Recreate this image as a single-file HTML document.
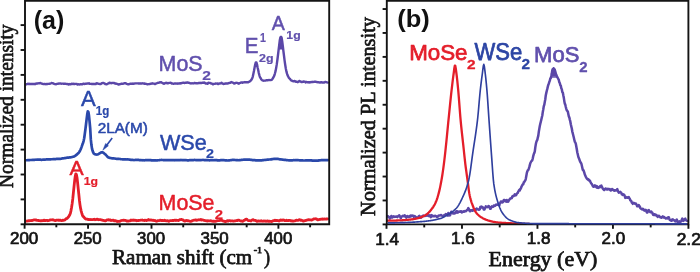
<!DOCTYPE html>
<html><head><meta charset="utf-8"><title>Raman and PL spectra</title><style>
html,body{margin:0;padding:0;background:#fff;}
svg{display:block;}
</style></head><body>
<svg width="700" height="272" viewBox="0 0 700 272">
<defs><clipPath id="cb"><rect x="386.8" y="0" width="301.60" height="224.4"/></clipPath></defs>
<rect width="700" height="272" fill="#fff"/>
<g fill="none" stroke-linejoin="round" stroke-linecap="round">
<path d="M26.00,84.42 L26.60,84.24 L27.20,84.05 L27.80,83.74 L28.40,83.99 L29.00,83.74 L29.60,84.10 L30.20,84.03 L30.80,84.06 L31.40,83.94 L32.00,84.13 L32.60,83.91 L33.20,84.05 L33.80,84.00 L34.40,84.02 L35.00,84.19 L35.60,83.91 L36.20,83.46 L36.80,83.68 L37.40,83.61 L38.00,83.19 L38.60,83.31 L39.20,83.42 L39.80,83.10 L40.40,82.96 L41.00,83.30 L41.60,83.66 L42.20,83.74 L42.80,83.88 L43.40,84.11 L44.00,84.17 L44.60,83.94 L45.20,83.98 L45.80,84.29 L46.40,84.15 L47.00,83.84 L47.60,84.00 L48.20,83.92 L48.80,83.89 L49.40,83.73 L50.00,83.70 L50.60,83.55 L51.20,83.23 L51.80,82.96 L52.40,83.27 L53.00,83.19 L53.60,83.55 L54.20,83.95 L54.80,84.12 L55.40,84.13 L56.00,84.30 L56.60,83.84 L57.20,83.86 L57.80,83.80 L58.40,83.54 L59.00,83.39 L59.60,83.58 L60.20,83.57 L60.80,83.47 L61.40,83.74 L62.00,83.66 L62.60,83.58 L63.20,83.69 L63.80,83.71 L64.40,83.76 L65.00,83.62 L65.60,83.88 L66.20,83.89 L66.80,84.00 L67.40,83.98 L68.00,84.36 L68.60,84.45 L69.20,84.06 L69.80,84.26 L70.40,84.29 L71.00,84.10 L71.60,83.66 L72.20,84.08 L72.80,83.74 L73.40,83.77 L74.00,84.11 L74.60,84.00 L75.20,83.88 L75.80,83.91 L76.40,83.97 L77.00,84.06 L77.60,84.59 L78.20,84.28 L78.80,84.39 L79.40,84.44 L80.00,84.39 L80.60,84.12 L81.20,84.21 L81.80,84.35 L82.40,84.24 L83.00,83.89 L83.60,83.67 L84.20,83.98 L84.80,83.84 L85.40,83.73 L86.00,83.76 L86.60,83.61 L87.20,83.48 L87.80,83.61 L88.40,83.54 L89.00,83.30 L89.60,83.75 L90.20,83.85 L90.80,83.91 L91.40,83.91 L92.00,84.16 L92.60,83.85 L93.20,83.91 L93.80,84.05 L94.40,83.95 L95.00,83.87 L95.60,84.15 L96.20,83.78 L96.80,83.21 L97.40,83.44 L98.00,83.61 L98.60,83.76 L99.20,83.84 L99.80,83.99 L100.40,83.87 L101.00,83.95 L101.60,83.37 L102.20,83.03 L102.80,83.08 L103.40,82.97 L104.00,83.08 L104.60,83.58 L105.20,84.03 L105.80,84.01 L106.40,84.32 L107.00,84.13 L107.60,83.85 L108.20,83.46 L108.80,83.26 L109.40,82.82 L110.00,82.82 L110.60,82.96 L111.20,83.20 L111.80,83.14 L112.40,82.87 L113.00,82.91 L113.60,82.94 L114.20,83.04 L114.80,83.38 L115.40,83.69 L116.00,83.48 L116.60,83.84 L117.20,83.92 L117.80,84.07 L118.40,84.57 L119.00,84.50 L119.60,84.12 L120.20,84.09 L120.80,83.99 L121.40,83.69 L122.00,83.92 L122.60,83.86 L123.20,83.57 L123.80,83.45 L124.40,83.26 L125.00,83.25 L125.60,83.18 L126.20,83.64 L126.80,83.92 L127.40,84.10 L128.00,84.24 L128.60,84.30 L129.20,84.13 L129.80,83.90 L130.40,83.74 L131.00,83.78 L131.60,83.71 L132.20,83.80 L132.80,83.57 L133.40,83.82 L134.00,83.60 L134.60,83.55 L135.20,83.39 L135.80,83.42 L136.40,83.39 L137.00,83.39 L137.60,83.38 L138.20,83.33 L138.80,83.61 L139.40,83.46 L140.00,83.39 L140.60,83.60 L141.20,83.41 L141.80,83.47 L142.40,83.26 L143.00,83.51 L143.60,83.55 L144.20,83.68 L144.80,83.40 L145.40,83.85 L146.00,83.85 L146.60,83.87 L147.20,84.33 L147.80,84.26 L148.40,84.17 L149.00,84.09 L149.60,84.09 L150.20,83.77 L150.80,83.83 L151.40,83.63 L152.00,83.44 L152.60,83.31 L153.20,83.67 L153.80,83.67 L154.40,83.77 L155.00,84.07 L155.60,83.86 L156.20,83.46 L156.80,83.28 L157.40,82.96 L158.00,82.81 L158.60,82.77 L159.20,82.58 L159.80,82.29 L160.40,82.46 L161.00,82.19 L161.60,82.50 L162.20,82.82 L162.80,83.12 L163.40,83.63 L164.00,83.76 L164.60,83.29 L165.20,83.03 L165.80,83.10 L166.40,82.80 L167.00,83.00 L167.60,83.40 L168.20,83.31 L168.80,82.96 L169.40,82.92 L170.00,82.84 L170.60,82.71 L171.20,83.10 L171.80,83.63 L172.40,83.51 L173.00,83.57 L173.60,83.72 L174.20,83.64 L174.80,83.46 L175.40,83.47 L176.00,83.53 L176.60,83.54 L177.20,83.71 L177.80,83.40 L178.40,83.45 L179.00,83.59 L179.60,83.35 L180.20,83.09 L180.80,83.46 L181.40,83.08 L182.00,82.94 L182.60,82.90 L183.20,82.69 L183.80,82.68 L184.40,83.04 L185.00,82.67 L185.60,82.75 L186.20,82.78 L186.80,82.38 L187.40,82.33 L188.00,82.70 L188.60,82.75 L189.20,82.93 L189.80,83.23 L190.40,83.43 L191.00,83.31 L191.60,83.43 L192.20,83.28 L192.80,83.34 L193.40,83.43 L194.00,83.26 L194.60,82.89 L195.20,83.13 L195.80,83.23 L196.40,83.13 L197.00,83.37 L197.60,83.38 L198.20,83.07 L198.80,82.87 L199.40,83.01 L200.00,82.76 L200.60,83.07 L201.20,83.04 L201.80,82.80 L202.40,82.65 L203.00,82.78 L203.60,82.59 L204.20,82.45 L204.80,82.86 L205.40,83.45 L206.00,83.36 L206.60,83.49 L207.20,83.69 L207.80,83.69 L208.40,82.75 L209.00,82.85 L209.60,82.87 L210.20,83.00 L210.80,83.31 L211.40,83.50 L212.00,83.68 L212.60,84.19 L213.20,84.27 L213.80,83.86 L214.40,83.89 L215.00,83.83 L215.60,83.42 L216.20,83.58 L216.80,83.56 L217.40,83.50 L218.00,83.97 L218.60,83.96 L219.20,83.40 L219.80,83.53 L220.40,83.34 L221.00,83.03 L221.60,82.66 L222.20,83.45 L222.80,83.63 L223.40,83.98 L224.00,83.82 L224.60,83.83 L225.20,83.51 L225.80,83.47 L226.40,83.45 L227.00,83.31 L227.60,83.50 L228.20,83.38 L228.80,83.13 L229.40,82.87 L230.00,82.92 L230.60,82.60 L231.20,82.04 L231.80,82.24 L232.40,82.57 L233.00,82.64 L233.60,83.02 L234.20,83.65 L234.80,83.46 L235.40,82.96 L236.00,82.83 L236.60,82.81 L237.20,82.92 L237.80,83.09 L238.40,83.67 L239.00,83.50 L239.60,83.02 L240.20,82.83 L240.80,82.55 L241.40,82.34 L242.00,82.41 L242.60,82.75 L243.20,82.33 L243.80,82.40 L244.40,82.21 L245.00,82.07 L245.60,82.18 L246.20,82.39 L246.80,82.29 L247.40,82.23 L248.00,82.24 L248.60,82.05 L249.20,81.67 L249.80,81.28 L250.40,81.07 L251.00,80.35 L251.60,79.48 L252.20,78.37 L252.80,76.59 L253.40,73.71 L254.00,70.83 L254.60,67.43 L255.20,64.54 L255.80,62.40 L256.40,62.47 L257.00,64.31 L257.60,67.47 L258.20,70.09 L258.80,73.08 L259.40,75.29 L260.00,77.23 L260.60,78.07 L261.20,79.28 L261.80,79.91 L262.40,80.39 L263.00,80.51 L263.60,80.78 L264.20,80.67 L264.80,80.58 L265.40,80.62 L266.00,80.41 L266.60,80.27 L267.20,80.29 L267.80,80.22 L268.40,80.12 L269.00,80.02 L269.60,80.15 L270.20,80.09 L270.80,80.05 L271.40,79.84 L272.00,79.55 L272.60,78.70 L273.20,77.77 L273.80,76.72 L274.40,75.29 L275.00,73.27 L275.60,70.92 L276.20,67.82 L276.80,64.17 L277.40,59.76 L278.00,55.02 L278.60,49.93 L279.20,45.04 L279.80,40.20 L280.40,37.33 L281.00,36.73 L281.60,37.72 L282.20,41.25 L282.80,45.93 L283.40,51.00 L284.00,55.74 L284.60,60.62 L285.20,64.78 L285.80,68.56 L286.40,71.42 L287.00,73.68 L287.60,75.36 L288.20,76.54 L288.80,77.71 L289.40,78.36 L290.00,78.94 L290.60,79.71 L291.20,80.34 L291.80,80.62 L292.40,81.02 L293.00,81.10 L293.60,81.31 L294.20,81.23 L294.80,80.98 L295.40,81.25 L296.00,81.73 L296.60,81.77 L297.20,81.88 L297.80,82.16 L298.40,81.56 L299.00,81.22 L299.60,80.99 L300.20,81.54 L300.80,81.58 L301.40,82.03 L302.00,82.08 L302.60,81.90 L303.20,81.50 L303.80,81.70 L304.40,81.57 L305.00,81.69 L305.60,82.38 L306.20,81.98 L306.80,81.95 L307.40,82.27 L308.00,82.21 L308.60,82.09 L309.20,82.53 L309.80,82.17 L310.40,82.07 L311.00,82.27 L311.60,81.96 L312.20,81.84 L312.80,82.13 L313.40,81.89 L314.00,81.82 L314.60,81.82 L315.20,81.67 L315.80,81.64 L316.40,82.04 L317.00,81.93 L317.60,82.26 L318.20,82.15 L318.80,82.33 L319.40,82.35 L320.00,82.63 L320.60,82.35 L321.20,82.19 L321.80,82.46 L322.40,82.50 L323.00,82.42 L323.60,82.56 L324.20,82.55 L324.80,82.13 L325.40,81.91 L326.00,82.09 L326.60,82.26 L327.20,82.44 L327.80,82.59" stroke="#5b47a8" stroke-width="2.4"/>
<path d="M279.5,49 L280.6,37.2 L281.4,37.2 L282.6,49 Z" fill="#5b47a8" stroke="#5b47a8" stroke-width="0.6"/>
<path d="M26.00,160.23 L26.60,160.26 L27.20,160.25 L27.80,160.16 L28.40,160.13 L29.00,160.16 L29.60,160.03 L30.20,160.02 L30.80,159.98 L31.40,159.99 L32.00,159.97 L32.60,159.91 L33.20,159.88 L33.80,159.85 L34.40,159.83 L35.00,159.71 L35.60,159.76 L36.20,159.76 L36.80,159.70 L37.40,159.71 L38.00,159.66 L38.60,159.66 L39.20,159.68 L39.80,159.69 L40.40,159.68 L41.00,159.80 L41.60,159.81 L42.20,159.71 L42.80,159.74 L43.40,159.70 L44.00,159.66 L44.60,159.68 L45.20,159.60 L45.80,159.51 L46.40,159.46 L47.00,159.45 L47.60,159.38 L48.20,159.44 L48.80,159.42 L49.40,159.40 L50.00,159.41 L50.60,159.37 L51.20,159.23 L51.80,159.24 L52.40,159.25 L53.00,159.19 L53.60,159.12 L54.20,159.09 L54.80,159.06 L55.40,159.07 L56.00,159.03 L56.60,158.95 L57.20,158.92 L57.80,158.96 L58.40,158.92 L59.00,158.88 L59.60,158.90 L60.20,158.89 L60.80,158.72 L61.40,158.61 L62.00,158.47 L62.60,158.42 L63.20,158.32 L63.80,158.24 L64.40,158.16 L65.00,158.09 L65.60,157.96 L66.20,157.81 L66.80,157.72 L67.40,157.70 L68.00,157.67 L68.60,157.61 L69.20,157.45 L69.80,157.46 L70.40,157.36 L71.00,157.22 L71.60,157.10 L72.20,156.95 L72.80,156.80 L73.40,156.62 L74.00,156.43 L74.60,156.16 L75.20,155.72 L75.80,155.38 L76.40,154.89 L77.00,154.42 L77.60,153.87 L78.20,153.30 L78.80,152.60 L79.40,151.75 L80.00,150.73 L80.60,149.46 L81.20,147.98 L81.80,146.36 L82.40,144.57 L83.00,142.98 L83.60,141.10 L84.20,138.20 L84.80,133.92 L85.40,129.34 L86.00,124.50 L86.60,119.33 L87.20,114.56 L87.80,111.27 L88.40,112.06 L89.00,115.81 L89.60,121.81 L90.20,128.40 L90.80,139.14 L91.40,144.83 L92.00,148.60 L92.60,150.84 L93.20,152.43 L93.80,153.54 L94.40,153.99 L95.00,154.19 L95.60,154.43 L96.20,154.52 L96.80,154.55 L97.40,154.52 L98.00,154.26 L98.60,153.97 L99.20,153.58 L99.80,153.26 L100.40,152.85 L101.00,152.51 L101.60,152.33 L102.20,152.24 L102.80,152.52 L103.40,152.80 L104.00,153.27 L104.60,153.80 L105.20,154.25 L105.80,154.79 L106.40,155.50 L107.00,156.19 L107.60,156.90 L108.20,157.34 L108.80,157.68 L109.40,157.71 L110.00,157.90 L110.60,158.02 L111.20,158.17 L111.80,158.29 L112.40,158.36 L113.00,158.41 L113.60,158.43 L114.20,158.47 L114.80,158.49 L115.40,158.65 L116.00,158.78 L116.60,158.86 L117.20,158.87 L117.80,158.90 L118.40,158.91 L119.00,158.93 L119.60,159.00 L120.20,159.02 L120.80,159.16 L121.40,159.26 L122.00,159.25 L122.60,159.33 L123.20,159.32 L123.80,159.28 L124.40,159.31 L125.00,159.40 L125.60,159.41 L126.20,159.45 L126.80,159.48 L127.40,159.40 L128.00,159.46 L128.60,159.53 L129.20,159.60 L129.80,159.64 L130.40,159.81 L131.00,159.83 L131.60,159.85 L132.20,159.97 L132.80,159.97 L133.40,159.99 L134.00,160.04 L134.60,159.99 L135.20,159.95 L135.80,159.89 L136.40,159.97 L137.00,159.94 L137.60,159.87 L138.20,159.90 L138.80,159.96 L139.40,160.06 L140.00,160.09 L140.60,160.07 L141.20,160.15 L141.80,160.23 L142.40,160.28 L143.00,160.20 L143.60,160.24 L144.20,160.36 L144.80,160.28 L145.40,160.17 L146.00,160.11 L146.60,160.13 L147.20,160.16 L147.80,160.17 L148.40,160.16 L149.00,160.15 L149.60,160.14 L150.20,160.14 L150.80,160.17 L151.40,160.32 L152.00,160.34 L152.60,160.32 L153.20,160.39 L153.80,160.43 L154.40,160.41 L155.00,160.42 L155.60,160.39 L156.20,160.48 L156.80,160.42 L157.40,160.35 L158.00,160.26 L158.60,160.24 L159.20,160.16 L159.80,160.06 L160.40,160.01 L161.00,160.00 L161.60,159.95 L162.20,160.00 L162.80,160.01 L163.40,160.08 L164.00,160.05 L164.60,160.06 L165.20,160.07 L165.80,160.12 L166.40,160.09 L167.00,160.08 L167.60,160.04 L168.20,160.15 L168.80,160.13 L169.40,160.09 L170.00,160.04 L170.60,160.16 L171.20,160.12 L171.80,160.12 L172.40,160.13 L173.00,160.19 L173.60,160.19 L174.20,160.28 L174.80,160.13 L175.40,160.13 L176.00,160.21 L176.60,160.21 L177.20,160.12 L177.80,160.12 L178.40,160.01 L179.00,160.04 L179.60,160.10 L180.20,160.08 L180.80,159.96 L181.40,160.03 L182.00,160.03 L182.60,160.01 L183.20,160.07 L183.80,160.07 L184.40,160.12 L185.00,160.16 L185.60,160.21 L186.20,160.17 L186.80,160.24 L187.40,160.36 L188.00,160.34 L188.60,160.33 L189.20,160.25 L189.80,160.12 L190.40,160.13 L191.00,160.12 L191.60,160.15 L192.20,160.13 L192.80,160.13 L193.40,160.10 L194.00,160.02 L194.60,159.96 L195.20,160.00 L195.80,160.06 L196.40,160.15 L197.00,160.13 L197.60,160.11 L198.20,160.16 L198.80,160.10 L199.40,160.01 L200.00,160.03 L200.60,159.99 L201.20,160.06 L201.80,160.01 L202.40,159.99 L203.00,159.93 L203.60,160.00 L204.20,160.04 L204.80,160.08 L205.40,160.16 L206.00,160.21 L206.60,160.04 L207.20,160.12 L207.80,160.19 L208.40,160.25 L209.00,160.22 L209.60,160.29 L210.20,160.25 L210.80,160.14 L211.40,160.08 L212.00,160.00 L212.60,160.10 L213.20,160.21 L213.80,160.26 L214.40,160.21 L215.00,160.08 L215.60,160.20 L216.20,160.17 L216.80,160.18 L217.40,160.33 L218.00,160.34 L218.60,160.31 L219.20,160.29 L219.80,160.32 L220.40,160.20 L221.00,160.15 L221.60,160.21 L222.20,160.15 L222.80,160.18 L223.40,160.19 L224.00,160.18 L224.60,160.26 L225.20,160.38 L225.80,160.39 L226.40,160.31 L227.00,160.42 L227.60,160.48 L228.20,160.49 L228.80,160.40 L229.40,160.35 L230.00,160.27 L230.60,160.20 L231.20,160.09 L231.80,159.99 L232.40,159.91 L233.00,160.01 L233.60,159.95 L234.20,159.93 L234.80,159.99 L235.40,160.02 L236.00,160.12 L236.60,160.12 L237.20,160.13 L237.80,160.19 L238.40,160.23 L239.00,160.21 L239.60,160.10 L240.20,160.06 L240.80,159.98 L241.40,159.91 L242.00,159.89 L242.60,159.75 L243.20,159.76 L243.80,159.66 L244.40,159.63 L245.00,159.57 L245.60,159.50 L246.20,159.59 L246.80,159.64 L247.40,159.64 L248.00,159.56 L248.60,159.55 L249.20,159.61 L249.80,159.63 L250.40,159.74 L251.00,159.85 L251.60,159.90 L252.20,160.06 L252.80,160.08 L253.40,160.04 L254.00,160.02 L254.60,160.14 L255.20,160.19 L255.80,160.34 L256.40,160.42 L257.00,160.43 L257.60,160.44 L258.20,160.41 L258.80,160.36 L259.40,160.30 L260.00,160.39 L260.60,160.49 L261.20,160.32 L261.80,160.35 L262.40,160.21 L263.00,160.16 L263.60,160.07 L264.20,159.96 L264.80,159.98 L265.40,159.91 L266.00,159.81 L266.60,159.72 L267.20,159.63 L267.80,159.68 L268.40,159.58 L269.00,159.52 L269.60,159.50 L270.20,159.47 L270.80,159.40 L271.40,159.32 L272.00,159.19 L272.60,159.10 L273.20,158.97 L273.80,158.90 L274.40,158.90 L275.00,158.85 L275.60,158.80 L276.20,158.74 L276.80,158.79 L277.40,158.87 L278.00,158.95 L278.60,159.02 L279.20,159.23 L279.80,159.29 L280.40,159.41 L281.00,159.38 L281.60,159.48 L282.20,159.57 L282.80,159.67 L283.40,159.78 L284.00,159.87 L284.60,159.88 L285.20,159.97 L285.80,159.95 L286.40,160.08 L287.00,160.12 L287.60,160.25 L288.20,160.26 L288.80,160.34 L289.40,160.33 L290.00,160.33 L290.60,160.29 L291.20,160.35 L291.80,160.32 L292.40,160.31 L293.00,160.25 L293.60,160.19 L294.20,160.20 L294.80,160.24 L295.40,160.20 L296.00,160.15 L296.60,160.06 L297.20,160.08 L297.80,160.05 L298.40,160.15 L299.00,160.23 L299.60,160.28 L300.20,160.37 L300.80,160.36 L301.40,160.33 L302.00,160.43 L302.60,160.45 L303.20,160.51 L303.80,160.51 L304.40,160.52 L305.00,160.48 L305.60,160.44 L306.20,160.42 L306.80,160.37 L307.40,160.35 L308.00,160.40 L308.60,160.32 L309.20,160.37 L309.80,160.35 L310.40,160.39 L311.00,160.39 L311.60,160.42 L312.20,160.57 L312.80,160.60 L313.40,160.68 L314.00,160.71 L314.60,160.69 L315.20,160.65 L315.80,160.56 L316.40,160.57 L317.00,160.57 L317.60,160.58 L318.20,160.57 L318.80,160.44 L319.40,160.40 L320.00,160.30 L320.60,160.23 L321.20,160.19 L321.80,160.17 L322.40,160.16 L323.00,160.11 L323.60,160.03 L324.20,160.06 L324.80,160.05 L325.40,160.06 L326.00,160.03 L326.60,160.05 L327.20,160.13 L327.80,160.15" stroke="#2a48aa" stroke-width="2.7"/>
<path d="M26.00,221.01 L26.60,221.16 L27.20,221.05 L27.80,220.81 L28.40,220.90 L29.00,220.66 L29.60,220.73 L30.20,220.66 L30.80,220.58 L31.40,220.46 L32.00,220.71 L32.60,220.27 L33.20,220.21 L33.80,219.93 L34.40,219.86 L35.00,219.97 L35.60,220.08 L36.20,219.94 L36.80,220.34 L37.40,220.29 L38.00,220.48 L38.60,220.46 L39.20,220.60 L39.80,220.75 L40.40,220.92 L41.00,220.61 L41.60,220.76 L42.20,220.59 L42.80,220.74 L43.40,220.26 L44.00,220.48 L44.60,220.09 L45.20,220.50 L45.80,220.52 L46.40,220.43 L47.00,220.29 L47.60,220.73 L48.20,220.57 L48.80,220.56 L49.40,220.24 L50.00,219.87 L50.60,219.99 L51.20,219.90 L51.80,219.95 L52.40,219.75 L53.00,219.99 L53.60,220.00 L54.20,220.30 L54.80,220.57 L55.40,220.50 L56.00,220.40 L56.60,220.15 L57.20,220.10 L57.80,220.20 L58.40,220.34 L59.00,220.11 L59.60,220.26 L60.20,220.17 L60.80,220.41 L61.40,220.58 L62.00,220.60 L62.60,220.25 L63.20,220.31 L63.80,220.30 L64.40,219.93 L65.00,219.93 L65.60,219.19 L66.20,218.61 L66.80,218.54 L67.40,218.13 L68.00,217.38 L68.60,216.80 L69.20,215.79 L69.80,214.77 L70.40,213.30 L71.00,210.61 L71.60,207.33 L72.20,203.40 L72.80,198.67 L73.40,192.71 L74.00,186.83 L74.60,181.16 L75.20,176.46 L75.80,173.86 L76.40,174.46 L77.00,177.42 L77.60,182.59 L78.20,188.51 L78.80,194.07 L79.40,200.16 L80.00,204.86 L80.60,208.43 L81.20,211.08 L81.80,213.22 L82.40,215.05 L83.00,216.37 L83.60,216.77 L84.20,217.45 L84.80,218.28 L85.40,218.89 L86.00,219.01 L86.60,219.09 L87.20,219.20 L87.80,219.36 L88.40,219.60 L89.00,219.44 L89.60,219.54 L90.20,219.69 L90.80,219.37 L91.40,219.68 L92.00,219.61 L92.60,219.69 L93.20,219.61 L93.80,219.28 L94.40,219.25 L95.00,219.81 L95.60,219.53 L96.20,219.52 L96.80,219.23 L97.40,219.25 L98.00,219.57 L98.60,219.78 L99.20,219.54 L99.80,219.58 L100.40,219.57 L101.00,219.84 L101.60,220.00 L102.20,220.06 L102.80,220.42 L103.40,220.48 L104.00,220.63 L104.60,220.63 L105.20,220.82 L105.80,220.59 L106.40,220.34 L107.00,219.87 L107.60,219.95 L108.20,219.72 L108.80,220.08 L109.40,219.90 L110.00,219.81 L110.60,220.07 L111.20,220.56 L111.80,220.30 L112.40,220.28 L113.00,220.14 L113.60,220.38 L114.20,220.84 L114.80,220.82 L115.40,220.54 L116.00,220.76 L116.60,221.20 L117.20,221.49 L117.80,221.24 L118.40,221.30 L119.00,221.30 L119.60,221.37 L120.20,221.15 L120.80,220.81 L121.40,220.50 L122.00,220.37 L122.60,220.29 L123.20,220.26 L123.80,220.17 L124.40,220.32 L125.00,220.40 L125.60,220.35 L126.20,220.70 L126.80,221.10 L127.40,220.99 L128.00,221.03 L128.60,221.01 L129.20,220.91 L129.80,220.94 L130.40,220.59 L131.00,220.03 L131.60,220.46 L132.20,220.05 L132.80,220.13 L133.40,220.37 L134.00,220.15 L134.60,220.40 L135.20,220.47 L135.80,220.19 L136.40,220.77 L137.00,220.49 L137.60,220.53 L138.20,220.65 L138.80,220.37 L139.40,220.28 L140.00,220.28 L140.60,220.21 L141.20,220.18 L141.80,220.03 L142.40,219.99 L143.00,220.46 L143.60,220.29 L144.20,220.54 L144.80,220.08 L145.40,220.41 L146.00,220.42 L146.60,220.57 L147.20,220.16 L147.80,220.01 L148.40,219.55 L149.00,220.09 L149.60,220.07 L150.20,219.94 L150.80,220.03 L151.40,220.02 L152.00,220.24 L152.60,220.29 L153.20,220.27 L153.80,220.58 L154.40,220.56 L155.00,220.45 L155.60,220.75 L156.20,221.26 L156.80,221.05 L157.40,220.86 L158.00,220.63 L158.60,220.53 L159.20,220.55 L159.80,220.41 L160.40,220.17 L161.00,220.49 L161.60,220.53 L162.20,220.31 L162.80,220.68 L163.40,220.64 L164.00,220.53 L164.60,220.15 L165.20,220.55 L165.80,220.67 L166.40,220.93 L167.00,220.71 L167.60,220.61 L168.20,220.98 L168.80,221.36 L169.40,220.92 L170.00,220.73 L170.60,220.60 L171.20,220.68 L171.80,220.57 L172.40,220.50 L173.00,220.47 L173.60,220.59 L174.20,220.30 L174.80,220.17 L175.40,220.21 L176.00,220.53 L176.60,220.24 L177.20,220.33 L177.80,220.39 L178.40,220.54 L179.00,220.15 L179.60,219.94 L180.20,219.53 L180.80,219.57 L181.40,219.43 L182.00,219.65 L182.60,219.78 L183.20,220.07 L183.80,220.70 L184.40,221.02 L185.00,221.00 L185.60,220.89 L186.20,220.41 L186.80,220.52 L187.40,220.79 L188.00,220.66 L188.60,220.80 L189.20,221.00 L189.80,221.27 L190.40,221.46 L191.00,221.27 L191.60,221.19 L192.20,220.69 L192.80,220.47 L193.40,220.26 L194.00,220.16 L194.60,220.20 L195.20,219.94 L195.80,219.96 L196.40,220.43 L197.00,220.13 L197.60,220.06 L198.20,219.94 L198.80,219.71 L199.40,219.95 L200.00,219.96 L200.60,219.47 L201.20,219.85 L201.80,220.06 L202.40,219.83 L203.00,220.07 L203.60,220.36 L204.20,220.32 L204.80,220.63 L205.40,220.69 L206.00,220.58 L206.60,220.98 L207.20,221.04 L207.80,220.67 L208.40,220.80 L209.00,220.88 L209.60,220.90 L210.20,220.83 L210.80,220.74 L211.40,220.92 L212.00,221.13 L212.60,221.25 L213.20,221.33 L213.80,221.18 L214.40,221.41 L215.00,221.28 L215.60,221.23 L216.20,221.17 L216.80,220.86 L217.40,220.63 L218.00,220.62 L218.60,220.57 L219.20,220.71 L219.80,220.31 L220.40,220.21 L221.00,220.37 L221.60,220.46 L222.20,220.49 L222.80,220.89 L223.40,221.01 L224.00,221.20 L224.60,221.45 L225.20,221.62 L225.80,221.60 L226.40,221.28 L227.00,220.83 L227.60,220.64 L228.20,221.03 L228.80,220.58 L229.40,220.62 L230.00,220.53 L230.60,221.00 L231.20,220.93 L231.80,220.96 L232.40,220.78 L233.00,221.12 L233.60,221.04 L234.20,221.05 L234.80,220.81 L235.40,220.83 L236.00,220.71 L236.60,220.49 L237.20,220.71 L237.80,220.32 L238.40,220.04 L239.00,220.11 L239.60,220.45 L240.20,220.72 L240.80,220.98 L241.40,220.96 L242.00,221.04 L242.60,221.35 L243.20,220.88 L243.80,220.48 L244.40,220.40 L245.00,219.89 L245.60,219.30 L246.20,219.20 L246.80,219.22 L247.40,219.90 L248.00,220.47 L248.60,220.61 L249.20,220.62 L249.80,220.58 L250.40,220.83 L251.00,220.98 L251.60,220.49 L252.20,219.94 L252.80,219.61 L253.40,219.89 L254.00,220.27 L254.60,220.34 L255.20,220.34 L255.80,220.64 L256.40,220.87 L257.00,221.30 L257.60,221.12 L258.20,220.96 L258.80,220.96 L259.40,221.11 L260.00,221.12 L260.60,221.19 L261.20,220.78 L261.80,221.12 L262.40,221.20 L263.00,221.23 L263.60,220.97 L264.20,221.02 L264.80,221.07 L265.40,221.31 L266.00,221.05 L266.60,221.32 L267.20,220.90 L267.80,221.00 L268.40,221.42 L269.00,221.28 L269.60,221.18 L270.20,221.30 L270.80,221.29 L271.40,221.52 L272.00,221.46 L272.60,220.93 L273.20,220.76 L273.80,220.70 L274.40,220.68 L275.00,220.22 L275.60,220.67 L276.20,220.58 L276.80,220.33 L277.40,220.60 L278.00,220.57 L278.60,220.62 L279.20,221.05 L279.80,220.52 L280.40,219.98 L281.00,220.26 L281.60,220.11 L282.20,220.29 L282.80,220.12 L283.40,219.95 L284.00,220.18 L284.60,220.64 L285.20,220.61 L285.80,220.61 L286.40,220.26 L287.00,220.67 L287.60,220.55 L288.20,220.49 L288.80,220.48 L289.40,220.40 L290.00,220.44 L290.60,220.80 L291.20,220.77 L291.80,221.03 L292.40,220.94 L293.00,221.15 L293.60,221.02 L294.20,220.92 L294.80,220.83 L295.40,220.67 L296.00,220.35 L296.60,220.16 L297.20,220.29 L297.80,220.45 L298.40,220.14 L299.00,219.81 L299.60,219.70 L300.20,220.10 L300.80,220.35 L301.40,220.25 L302.00,220.36 L302.60,220.72 L303.20,221.09 L303.80,221.00 L304.40,220.82 L305.00,220.72 L305.60,220.37 L306.20,220.41 L306.80,220.15 L307.40,219.96 L308.00,219.85 L308.60,219.74 L309.20,219.68 L309.80,219.95 L310.40,219.81 L311.00,219.92 L311.60,220.16 L312.20,219.75 L312.80,219.52 L313.40,219.09 L314.00,218.85 L314.60,218.87 L315.20,218.93 L315.80,218.65 L316.40,218.97 L317.00,219.44 L317.60,219.95 L318.20,219.87 L318.80,219.56 L319.40,219.50 L320.00,219.34 L320.60,219.39 L321.20,219.09 L321.80,219.06 L322.40,218.94 L323.00,219.34 L323.60,219.07 L324.20,218.95 L324.80,219.07 L325.40,219.04 L326.00,219.00 L326.60,219.07 L327.20,218.84 L327.80,218.91" stroke="#e41e2a" stroke-width="2.8"/>
<path d="M387.80,216.09 L388.30,216.77 L388.80,216.75 L389.30,217.25 L389.80,218.69 L390.30,217.63 L390.80,217.24 L391.30,215.93 L391.80,217.27 L392.30,217.50 L392.80,216.74 L393.30,216.63 L393.80,216.28 L394.30,216.87 L394.80,216.73 L395.30,216.84 L395.80,216.70 L396.30,216.50 L396.80,216.71 L397.30,217.06 L397.80,216.34 L398.30,216.37 L398.80,215.68 L399.30,215.37 L399.80,216.27 L400.30,217.01 L400.80,218.21 L401.30,216.86 L401.80,216.61 L402.30,216.05 L402.80,215.81 L403.30,216.08 L403.80,215.81 L404.30,216.39 L404.80,215.37 L405.30,216.19 L405.80,216.65 L406.30,217.57 L406.80,216.62 L407.30,215.97 L407.80,216.36 L408.30,216.66 L408.80,217.03 L409.30,216.49 L409.80,216.06 L410.30,216.66 L410.80,215.61 L411.30,216.25 L411.80,215.45 L412.30,215.61 L412.80,215.65 L413.30,215.94 L413.80,216.74 L414.30,216.16 L414.80,216.11 L415.30,216.62 L415.80,217.12 L416.30,217.72 L416.80,217.59 L417.30,217.84 L417.80,217.67 L418.30,216.91 L418.80,216.27 L419.30,215.83 L419.80,216.39 L420.30,217.37 L420.80,217.66 L421.30,217.48 L421.80,216.84 L422.30,216.13 L422.80,215.86 L423.30,215.52 L423.80,216.08 L424.30,216.01 L424.80,216.05 L425.30,215.67 L425.80,215.64 L426.30,215.68 L426.80,214.52 L427.30,214.94 L427.80,214.89 L428.30,216.04 L428.80,216.02 L429.30,215.25 L429.80,216.31 L430.30,216.20 L430.80,217.18 L431.30,215.13 L431.80,215.35 L432.30,215.46 L432.80,216.14 L433.30,215.95 L433.80,216.37 L434.30,216.37 L434.80,215.79 L435.30,215.80 L435.80,216.08 L436.30,216.41 L436.80,216.87 L437.30,216.79 L437.80,216.77 L438.30,215.75 L438.80,215.44 L439.30,215.60 L439.80,215.51 L440.30,215.35 L440.80,215.07 L441.30,215.10 L441.80,215.54 L442.30,215.88 L442.80,216.04 L443.30,215.89 L443.80,215.77 L444.30,215.11 L444.80,214.77 L445.30,214.92 L445.80,214.04 L446.30,214.24 L446.80,215.17 L447.30,215.12 L447.80,215.56 L448.30,213.05 L448.80,214.02 L449.30,213.97 L449.80,215.44 L450.30,214.72 L450.80,213.18 L451.30,211.66 L451.80,212.36 L452.30,212.71 L452.80,213.33 L453.30,213.02 L453.80,213.33 L454.30,213.51 L454.80,213.36 L455.30,212.29 L455.80,212.66 L456.30,211.18 L456.80,212.49 L457.30,211.41 L457.80,212.58 L458.30,211.64 L458.80,211.68 L459.30,211.69 L459.80,211.73 L460.30,211.30 L460.80,211.65 L461.30,211.42 L461.80,212.54 L462.30,211.97 L462.80,211.84 L463.30,211.32 L463.80,211.75 L464.30,211.56 L464.80,211.13 L465.30,211.31 L465.80,211.20 L466.30,210.84 L466.80,210.15 L467.30,209.97 L467.80,209.10 L468.30,208.13 L468.80,208.83 L469.30,210.27 L469.80,211.30 L470.30,211.23 L470.80,210.23 L471.30,210.19 L471.80,210.48 L472.30,210.66 L472.80,210.71 L473.30,209.88 L473.80,210.23 L474.30,209.86 L474.80,209.22 L475.30,209.76 L475.80,209.07 L476.30,209.65 L476.80,208.59 L477.30,209.13 L477.80,209.29 L478.30,209.43 L478.80,209.79 L479.30,209.61 L479.80,209.29 L480.30,207.08 L480.80,206.69 L481.30,206.62 L481.80,207.48 L482.30,207.08 L482.80,207.40 L483.30,208.21 L483.80,209.44 L484.30,209.59 L484.80,208.61 L485.30,207.69 L485.80,206.35 L486.30,206.94 L486.80,206.87 L487.30,207.13 L487.80,206.61 L488.30,206.21 L488.80,206.09 L489.30,206.69 L489.80,208.23 L490.30,208.84 L490.80,208.61 L491.30,207.08 L491.80,206.41 L492.30,206.86 L492.80,206.50 L493.30,206.76 L493.80,205.52 L494.30,205.88 L494.80,205.55 L495.30,205.78 L495.80,204.74 L496.30,204.59 L496.80,204.83 L497.30,204.79 L497.80,204.36 L498.30,204.20 L498.80,204.71 L499.30,205.35 L499.80,203.36 L500.30,202.98 L500.80,201.58 L501.30,201.72 L501.80,201.57 L502.30,202.49 L502.80,202.16 L503.30,201.14 L503.80,200.01 L504.30,200.41 L504.80,200.06 L505.30,201.21 L505.80,201.34 L506.30,201.61 L506.80,200.05 L507.30,200.70 L507.80,201.78 L508.30,201.60 L508.80,200.43 L509.30,199.74 L509.80,199.19 L510.30,198.50 L510.80,198.29 L511.30,198.27 L511.80,198.06 L512.30,196.42 L512.80,196.05 L513.30,196.23 L513.80,196.10 L514.30,195.42 L514.80,194.34 L515.30,195.15 L515.80,195.39 L516.30,194.92 L516.80,193.59 L517.30,193.17 L517.80,192.94 L518.30,191.38 L518.80,190.70 L519.30,189.89 L519.80,190.48 L520.30,188.90 L520.80,188.68 L521.30,187.14 L521.80,186.04 L522.30,185.20 L522.80,184.18 L523.30,184.15 L523.80,182.34 L524.30,181.97 L524.80,181.07 L525.30,180.36 L525.80,178.78 L526.30,176.01 L526.80,173.17 L527.30,171.46 L527.80,170.35 L528.30,170.01 L528.80,168.65 L529.30,167.14 L529.80,165.15 L530.30,163.26 L530.80,162.23 L531.30,161.28 L531.80,160.73 L532.30,160.25 L532.80,158.19 L533.30,155.80 L533.80,154.05 L534.30,153.03 L534.80,151.41 L535.30,147.41 L535.80,144.33 L536.30,142.10 L536.80,140.73 L537.30,139.93 L537.80,137.58 L538.30,135.67 L538.80,131.79 L539.30,128.85 L539.80,126.00 L540.30,123.84 L540.80,121.79 L541.30,119.74 L541.80,117.53 L542.30,115.47 L542.80,111.94 L543.30,109.23 L543.80,106.12 L544.30,104.82 L544.80,101.87 L545.30,99.17 L545.80,95.17 L546.30,92.88 L546.80,90.74 L547.30,88.89 L547.80,86.69 L548.30,84.81 L548.80,83.81 L549.30,81.87 L549.80,80.70 L550.30,78.55 L550.80,78.10 L551.30,76.04 L551.80,73.58 L552.30,70.15 L552.80,69.00 L553.30,68.73 L553.80,69.54 L554.30,68.98 L554.80,69.91 L555.30,71.58 L555.80,73.69 L556.30,74.80 L556.80,76.17 L557.30,77.06 L557.80,78.01 L558.30,78.96 L558.80,79.90 L559.30,82.15 L559.80,83.02 L560.30,85.09 L560.80,85.82 L561.30,88.24 L561.80,89.25 L562.30,92.05 L562.80,92.59 L563.30,95.33 L563.80,97.63 L564.30,101.12 L564.80,103.69 L565.30,104.66 L565.80,106.96 L566.30,108.85 L566.80,110.45 L567.30,110.95 L567.80,111.59 L568.30,113.98 L568.80,116.34 L569.30,117.34 L569.80,119.62 L570.30,121.41 L570.80,124.17 L571.30,126.40 L571.80,128.43 L572.30,131.57 L572.80,133.43 L573.30,135.51 L573.80,137.56 L574.30,139.71 L574.80,141.67 L575.30,142.38 L575.80,143.83 L576.30,146.51 L576.80,149.31 L577.30,152.55 L577.80,154.44 L578.30,156.67 L578.80,157.94 L579.30,159.24 L579.80,160.85 L580.30,161.97 L580.80,162.80 L581.30,163.46 L581.80,165.55 L582.30,167.82 L582.80,169.91 L583.30,170.02 L583.80,171.10 L584.30,172.66 L584.80,174.50 L585.30,175.54 L585.80,176.85 L586.30,177.64 L586.80,178.51 L587.30,179.06 L587.80,178.94 L588.30,180.05 L588.80,179.56 L589.30,180.60 L589.80,180.52 L590.30,181.62 L590.80,182.52 L591.30,183.46 L591.80,183.92 L592.30,184.97 L592.80,186.04 L593.30,186.65 L593.80,186.67 L594.30,185.97 L594.80,185.37 L595.30,185.56 L595.80,186.00 L596.30,187.20 L596.80,186.23 L597.30,187.73 L597.80,186.88 L598.30,187.97 L598.80,187.31 L599.30,187.41 L599.80,187.27 L600.30,185.93 L600.80,186.04 L601.30,185.49 L601.80,186.65 L602.30,187.62 L602.80,188.52 L603.30,189.18 L603.80,189.80 L604.30,190.02 L604.80,189.35 L605.30,188.59 L605.80,188.42 L606.30,189.22 L606.80,189.51 L607.30,189.61 L607.80,188.89 L608.30,189.08 L608.80,189.09 L609.30,189.40 L609.80,189.16 L610.30,190.07 L610.80,190.54 L611.30,189.92 L611.80,189.22 L612.30,189.06 L612.80,189.60 L613.30,190.14 L613.80,190.04 L614.30,190.64 L614.80,190.31 L615.30,190.43 L615.80,190.56 L616.30,190.05 L616.80,189.65 L617.30,189.11 L617.80,190.90 L618.30,191.76 L618.80,192.71 L619.30,192.25 L619.80,192.13 L620.30,191.87 L620.80,192.50 L621.30,192.87 L621.80,194.32 L622.30,194.31 L622.80,194.88 L623.30,194.36 L623.80,194.62 L624.30,194.99 L624.80,196.26 L625.30,197.87 L625.80,197.71 L626.30,197.52 L626.80,197.14 L627.30,197.68 L627.80,197.64 L628.30,197.48 L628.80,197.16 L629.30,198.20 L629.80,198.82 L630.30,200.38 L630.80,200.52 L631.30,201.08 L631.80,202.67 L632.30,203.12 L632.80,203.81 L633.30,202.80 L633.80,203.27 L634.30,203.08 L634.80,203.63 L635.30,203.39 L635.80,203.51 L636.30,204.17 L636.80,205.34 L637.30,206.32 L637.80,206.11 L638.30,206.24 L638.80,205.11 L639.30,206.23 L639.80,206.38 L640.30,208.07 L640.80,208.49 L641.30,208.60 L641.80,209.24 L642.30,208.74 L642.80,209.51 L643.30,209.12 L643.80,209.76 L644.30,210.48 L644.80,210.64 L645.30,210.45 L645.80,209.85 L646.30,210.57 L646.80,212.47 L647.30,212.60 L647.80,211.70 L648.30,210.28 L648.80,210.03 L649.30,211.00 L649.80,211.56 L650.30,212.10 L650.80,212.28 L651.30,211.58 L651.80,212.36 L652.30,212.55 L652.80,214.22 L653.30,214.85 L653.80,215.00 L654.30,214.49 L654.80,214.20 L655.30,215.19 L655.80,214.74 L656.30,214.86 L656.80,215.58 L657.30,216.53 L657.80,216.84 L658.30,216.10 L658.80,215.72 L659.30,216.24 L659.80,216.53 L660.30,217.35 L660.80,217.39 L661.30,217.80 L661.80,216.93 L662.30,216.96 L662.80,216.43 L663.30,217.57 L663.80,217.12 L664.30,217.12 L664.80,217.64 L665.30,218.12 L665.80,218.54 L666.30,218.06 L666.80,218.23 L667.30,218.48 L667.80,217.58 L668.30,217.23 L668.80,217.23 L669.30,218.86 L669.80,220.06 L670.30,219.81 L670.80,220.49 L671.30,219.97 L671.80,220.76 L672.30,219.64 L672.80,219.38 L673.30,219.93 L673.80,220.17 L674.30,220.49 L674.80,220.44 L675.30,221.46 L675.80,220.85 L676.30,220.26 L676.80,219.48 L677.30,221.17 L677.80,222.53 L678.30,222.57 L678.80,221.93 L679.30,221.21 L679.80,221.86 L680.30,221.57 L680.80,221.63 L681.30,220.78 L681.80,219.68 L682.30,218.64 L682.80,219.14 L683.30,220.88 L683.80,220.50 L684.30,219.56 L684.80,219.21 L685.30,218.70 L685.80,219.90 L686.30,220.47 L686.80,220.70 L687.30,220.84" stroke="#5b47a8" stroke-width="2.5"/>
<path d="M550.9,76.8 L552.9,68.4 L553.6,67.0 L554.5,68.6 L556.9,76.8 Z" fill="#5b47a8" stroke="#5b47a8" stroke-width="1"/>
<path d="M387.80,220.70 L388.30,220.70 L388.80,220.69 L389.30,220.69 L389.80,220.68 L390.30,220.68 L390.80,220.67 L391.30,220.66 L391.80,220.65 L392.30,220.64 L392.80,220.62 L393.30,220.61 L393.80,220.60 L394.30,220.58 L394.80,220.57 L395.30,220.55 L395.80,220.53 L396.30,220.52 L396.80,220.50 L397.30,220.48 L397.80,220.46 L398.30,220.44 L398.80,220.42 L399.30,220.40 L399.80,220.38 L400.30,220.36 L400.80,220.34 L401.30,220.31 L401.80,220.29 L402.30,220.26 L402.80,220.23 L403.30,220.19 L403.80,220.16 L404.30,220.12 L404.80,220.08 L405.30,220.04 L405.80,220.00 L406.30,219.96 L406.80,219.92 L407.30,219.87 L407.80,219.82 L408.30,219.78 L408.80,219.73 L409.30,219.67 L409.80,219.62 L410.30,219.57 L410.80,219.51 L411.30,219.45 L411.80,219.38 L412.30,219.31 L412.80,219.24 L413.30,219.16 L413.80,219.08 L414.30,218.99 L414.80,218.90 L415.30,218.80 L415.80,218.70 L416.30,218.59 L416.80,218.48 L417.30,218.37 L417.80,218.25 L418.30,218.12 L418.80,217.99 L419.30,217.84 L419.80,217.68 L420.30,217.51 L420.80,217.33 L421.30,217.14 L421.80,216.93 L422.30,216.72 L422.80,216.49 L423.30,216.25 L423.80,216.00 L424.30,215.74 L424.80,215.47 L425.30,215.18 L425.80,214.88 L426.30,214.57 L426.80,214.22 L427.30,213.83 L427.80,213.40 L428.30,212.94 L428.80,212.44 L429.30,211.92 L429.80,211.36 L430.30,210.78 L430.80,210.17 L431.30,209.54 L431.80,208.90 L432.30,208.23 L432.80,207.53 L433.30,206.78 L433.80,205.97 L434.30,205.11 L434.80,204.18 L435.30,203.18 L435.80,202.11 L436.30,200.96 L436.80,199.65 L437.30,198.17 L437.80,196.53 L438.30,194.76 L438.80,192.88 L439.30,190.89 L439.80,188.74 L440.30,186.38 L440.80,183.84 L441.30,181.14 L441.80,178.28 L442.30,175.25 L442.80,171.92 L443.30,168.34 L443.80,164.55 L444.30,160.59 L444.80,156.32 L445.30,151.84 L445.80,147.19 L446.30,142.31 L446.80,137.28 L447.30,132.16 L447.80,127.03 L448.30,121.98 L448.80,117.03 L449.30,112.04 L449.80,107.04 L450.30,102.10 L450.80,97.29 L451.30,92.66 L451.80,88.27 L452.30,84.02 L452.80,79.96 L453.30,76.14 L453.80,72.50 L454.30,68.43 L454.80,65.61 L455.30,65.86 L455.80,68.66 L456.30,72.50 L456.80,76.31 L457.30,80.77 L457.80,85.78 L458.30,91.09 L458.80,97.07 L459.30,103.62 L459.80,110.28 L460.30,116.58 L460.80,122.12 L461.30,127.17 L461.80,131.93 L462.30,136.49 L462.80,140.95 L463.30,145.42 L463.80,150.00 L464.30,154.76 L464.80,159.49 L465.30,163.82 L465.80,167.75 L466.30,171.44 L466.80,175.01 L467.30,178.56 L467.80,182.26 L468.30,186.21 L468.80,190.06 L469.30,193.40 L469.80,195.92 L470.30,198.02 L470.80,199.88 L471.30,201.55 L471.80,203.06 L472.30,204.45 L472.80,205.76 L473.30,207.03 L473.80,208.24 L474.30,209.37 L474.80,210.41 L475.30,211.33 L475.80,212.13 L476.30,212.79 L476.80,213.39 L477.30,213.96 L477.80,214.49 L478.30,214.98 L478.80,215.43 L479.30,215.86 L479.80,216.25 L480.30,216.62 L480.80,216.96 L481.30,217.28 L481.80,217.58 L482.30,217.87 L482.80,218.15 L483.30,218.41 L483.80,218.67 L484.30,218.92 L484.80,219.15 L485.30,219.38 L485.80,219.59 L486.30,219.80 L486.80,219.99 L487.30,220.17 L487.80,220.35 L488.30,220.51 L488.80,220.66 L489.30,220.80 L489.80,220.93 L490.30,221.07 L490.80,221.19 L491.30,221.32 L491.80,221.44 L492.30,221.55 L492.80,221.67 L493.30,221.77 L493.80,221.87 L494.30,221.97 L494.80,222.06 L495.30,222.15 L495.80,222.23 L496.30,222.30 L496.80,222.37 L497.30,222.43 L497.80,222.48 L498.30,222.53 L498.80,222.57 L499.30,222.61 L499.80,222.65 L500.30,222.69 L500.80,222.73 L501.30,222.76 L501.80,222.80 L502.30,222.83 L502.80,222.86 L503.30,222.89 L503.80,222.91 L504.30,222.94 L504.80,222.97 L505.30,222.99 L505.80,223.02 L506.30,223.04 L506.80,223.07 L507.30,223.09 L507.80,223.11 L508.30,223.13 L508.80,223.16 L509.30,223.18 L509.80,223.20 L510.30,223.23 L510.80,223.25 L511.30,223.27 L511.80,223.30 L512.30,223.33 L512.80,223.35 L513.30,223.38 L513.80,223.40 L514.30,223.43 L514.80,223.46 L515.30,223.48 L515.80,223.51 L516.30,223.53 L516.80,223.56 L517.30,223.58 L517.80,223.61 L518.30,223.63 L518.80,223.66 L519.30,223.68 L519.80,223.70 L520.30,223.73 L520.80,223.75 L521.30,223.77 L521.80,223.79 L522.30,223.81 L522.80,223.83 L523.30,223.85 L523.80,223.86 L524.30,223.88 L524.80,223.89 L525.30,223.91 L525.80,223.92 L526.30,223.94 L526.80,223.95 L527.30,223.97 L527.80,223.98 L528.30,223.99 L528.80,224.01 L529.30,224.02 L529.80,224.03 L530.30,224.05 L530.80,224.06 L531.30,224.07 L531.80,224.09 L532.30,224.10 L532.80,224.11 L533.30,224.12 L533.80,224.13 L534.30,224.14 L534.80,224.15 L535.30,224.16 L535.80,224.17 L536.30,224.17 L536.80,224.18 L537.30,224.19 L537.80,224.19 L538.30,224.19 L538.80,224.20 L539.30,224.20 L539.80,224.20 L540.30,224.20 L540.80,224.20 L541.30,224.20 L541.80,224.20 L542.30,224.20 L542.80,224.20 L543.30,224.20 L543.80,224.20 L544.30,224.20 L544.80,224.20 L545.30,224.20 L545.80,224.20 L546.30,224.20 L546.80,224.20 L547.30,224.20 L547.80,224.20 L548.30,224.20 L548.80,224.20 L549.30,224.20 L549.80,224.20 L550.30,224.20 L550.80,224.20 L551.30,224.20 L551.80,224.20 L552.30,224.20 L552.80,224.20 L553.30,224.20 L553.80,224.20 L554.30,224.20 L554.80,224.20 L555.30,224.20 L555.80,224.20 L556.30,224.20 L556.80,224.20 L557.30,224.20 L557.80,224.20 L558.30,224.20 L558.80,224.20 L559.30,224.20 L559.80,224.20 L560.30,224.20 L560.80,224.20 L561.30,224.20 L561.80,224.20 L562.30,224.20 L562.80,224.20 L563.30,224.20 L563.80,224.20 L564.30,224.20 L564.80,224.20 L565.30,224.20 L565.80,224.20 L566.30,224.20 L566.80,224.20 L567.30,224.20 L567.80,224.20 L568.30,224.20 L568.80,224.20 L569.30,224.20 L569.80,224.20 L570.30,224.20 L570.80,224.20 L571.30,224.20 L571.80,224.20 L572.30,224.20 L572.80,224.20 L573.30,224.20 L573.80,224.20 L574.30,224.20 L574.80,224.20 L575.30,224.20 L575.80,224.20 L576.30,224.20 L576.80,224.20 L577.30,224.20 L577.80,224.20 L578.30,224.20 L578.80,224.20 L579.30,224.20 L579.80,224.20 L580.30,224.20 L580.80,224.20 L581.30,224.20 L581.80,224.20 L582.30,224.20 L582.80,224.20 L583.30,224.20 L583.80,224.20 L584.30,224.20 L584.80,224.20 L585.30,224.20 L585.80,224.20 L586.30,224.20 L586.80,224.20 L587.30,224.20 L587.80,224.20 L588.30,224.20 L588.80,224.20 L589.30,224.20 L589.80,224.20 L590.30,224.20 L590.80,224.20 L591.30,224.20 L591.80,224.20 L592.30,224.20 L592.80,224.20 L593.30,224.20 L593.80,224.20 L594.30,224.20 L594.80,224.20 L595.30,224.20 L595.80,224.20 L596.30,224.20 L596.80,224.20 L597.30,224.20 L597.80,224.20 L598.30,224.20 L598.80,224.20 L599.30,224.20 L599.80,224.20 L600.30,224.20 L600.80,224.20 L601.30,224.20 L601.80,224.20 L602.30,224.20 L602.80,224.20 L603.30,224.20 L603.80,224.20 L604.30,224.20 L604.80,224.20 L605.30,224.20 L605.80,224.20 L606.30,224.20 L606.80,224.20 L607.30,224.20 L607.80,224.20 L608.30,224.20 L608.80,224.20 L609.30,224.20 L609.80,224.20 L610.30,224.20 L610.80,224.20 L611.30,224.20 L611.80,224.20 L612.30,224.20 L612.80,224.20 L613.30,224.20 L613.80,224.20 L614.30,224.20 L614.80,224.20 L615.30,224.20 L615.80,224.20 L616.30,224.20 L616.80,224.20 L617.30,224.20 L617.80,224.20 L618.30,224.20 L618.80,224.20 L619.30,224.20 L619.80,224.20 L620.30,224.20 L620.80,224.20 L621.30,224.20 L621.80,224.20 L622.30,224.20 L622.80,224.20 L623.30,224.20 L623.80,224.20 L624.30,224.20 L624.80,224.20 L625.30,224.20 L625.80,224.20 L626.30,224.20 L626.80,224.20 L627.30,224.20 L627.80,224.20 L628.30,224.20 L628.80,224.20 L629.30,224.20 L629.80,224.20 L630.30,224.20 L630.80,224.20 L631.30,224.20 L631.80,224.20 L632.30,224.20 L632.80,224.20 L633.30,224.20 L633.80,224.20 L634.30,224.20 L634.80,224.20 L635.30,224.20 L635.80,224.20 L636.30,224.20 L636.80,224.20 L637.30,224.20 L637.80,224.20 L638.30,224.20 L638.80,224.20 L639.30,224.20 L639.80,224.20 L640.30,224.20 L640.80,224.20 L641.30,224.20 L641.80,224.20 L642.30,224.20 L642.80,224.20 L643.30,224.20 L643.80,224.20 L644.30,224.20 L644.80,224.20 L645.30,224.20 L645.80,224.20 L646.30,224.20 L646.80,224.20 L647.30,224.20 L647.80,224.20 L648.30,224.20 L648.80,224.20 L649.30,224.20 L649.80,224.20 L650.30,224.20 L650.80,224.20 L651.30,224.20 L651.80,224.20 L652.30,224.20 L652.80,224.20 L653.30,224.20 L653.80,224.20 L654.30,224.20 L654.80,224.20 L655.30,224.20 L655.80,224.20 L656.30,224.20 L656.80,224.20 L657.30,224.20 L657.80,224.20 L658.30,224.20 L658.80,224.20 L659.30,224.20 L659.80,224.20 L660.30,224.20 L660.80,224.20 L661.30,224.20 L661.80,224.20 L662.30,224.20 L662.80,224.20 L663.30,224.20 L663.80,224.20 L664.30,224.20 L664.80,224.20 L665.30,224.20 L665.80,224.20 L666.30,224.20 L666.80,224.20 L667.30,224.20 L667.80,224.20 L668.30,224.20 L668.80,224.20 L669.30,224.20 L669.80,224.20 L670.30,224.20 L670.80,224.20 L671.30,224.20 L671.80,224.20 L672.30,224.20 L672.80,224.20 L673.30,224.20 L673.80,224.20 L674.30,224.20 L674.80,224.20 L675.30,224.20 L675.80,224.20 L676.30,224.20 L676.80,224.20 L677.30,224.20 L677.80,224.20 L678.30,224.20 L678.80,224.20 L679.30,224.20 L679.80,224.20 L680.30,224.20 L680.80,224.20 L681.30,224.20 L681.80,224.20 L682.30,224.20 L682.80,224.20 L683.30,224.20 L683.80,224.20 L684.30,224.20 L684.80,224.20 L685.30,224.20 L685.80,224.20 L686.30,224.20 L686.80,224.20 L687.30,224.20" stroke="#e41e2a" stroke-width="2.3" clip-path="url(#cb)"/>
</g>
<g stroke="#141414" stroke-width="1.9" fill="none" stroke-linecap="butt">
<path d="M25.0,224.3 V0.7 H329.2 V224.3 Z"/>
<path d="M386.8,224.4 V0.7 H688.4 V224.4 Z"/>
<line x1="20.6" y1="224.30" x2="25.0" y2="224.30"/>
<line x1="20.6" y1="199.40" x2="25.0" y2="199.40"/>
<line x1="20.6" y1="174.50" x2="25.0" y2="174.50"/>
<line x1="20.6" y1="149.60" x2="25.0" y2="149.60"/>
<line x1="20.6" y1="124.70" x2="25.0" y2="124.70"/>
<line x1="20.6" y1="99.80" x2="25.0" y2="99.80"/>
<line x1="20.6" y1="74.90" x2="25.0" y2="74.90"/>
<line x1="20.6" y1="50.00" x2="25.0" y2="50.00"/>
<line x1="20.6" y1="25.10" x2="25.0" y2="25.10"/>
<line x1="24.60" y1="224.3" x2="24.60" y2="228.70"/>
<line x1="56.33" y1="224.3" x2="56.33" y2="227.30"/>
<line x1="88.05" y1="224.3" x2="88.05" y2="228.70"/>
<line x1="119.78" y1="224.3" x2="119.78" y2="227.30"/>
<line x1="151.50" y1="224.3" x2="151.50" y2="228.70"/>
<line x1="183.22" y1="224.3" x2="183.22" y2="227.30"/>
<line x1="214.95" y1="224.3" x2="214.95" y2="228.70"/>
<line x1="246.67" y1="224.3" x2="246.67" y2="227.30"/>
<line x1="278.40" y1="224.3" x2="278.40" y2="228.70"/>
<line x1="310.12" y1="224.3" x2="310.12" y2="227.30"/>
<line x1="382.6" y1="224.40" x2="386.8" y2="224.40"/>
<line x1="382.6" y1="200.47" x2="386.8" y2="200.47"/>
<line x1="382.6" y1="176.54" x2="386.8" y2="176.54"/>
<line x1="382.6" y1="152.61" x2="386.8" y2="152.61"/>
<line x1="382.6" y1="128.68" x2="386.8" y2="128.68"/>
<line x1="382.6" y1="104.75" x2="386.8" y2="104.75"/>
<line x1="382.6" y1="80.82" x2="386.8" y2="80.82"/>
<line x1="382.6" y1="56.89" x2="386.8" y2="56.89"/>
<line x1="382.6" y1="32.96" x2="386.8" y2="32.96"/>
<line x1="382.6" y1="9.03" x2="386.8" y2="9.03"/>
<line x1="386.50" y1="224.4" x2="386.50" y2="228.80"/>
<line x1="424.24" y1="224.4" x2="424.24" y2="227.40"/>
<line x1="461.98" y1="224.4" x2="461.98" y2="228.80"/>
<line x1="499.72" y1="224.4" x2="499.72" y2="227.40"/>
<line x1="537.46" y1="224.4" x2="537.46" y2="228.80"/>
<line x1="575.20" y1="224.4" x2="575.20" y2="227.40"/>
<line x1="612.94" y1="224.4" x2="612.94" y2="228.80"/>
<line x1="650.68" y1="224.4" x2="650.68" y2="227.40"/>
<line x1="688.42" y1="224.4" x2="688.42" y2="228.80"/>
</g>
<path d="M387.80,222.90 L388.30,222.90 L388.80,222.89 L389.30,222.89 L389.80,222.89 L390.30,222.88 L390.80,222.88 L391.30,222.87 L391.80,222.86 L392.30,222.86 L392.80,222.85 L393.30,222.84 L393.80,222.83 L394.30,222.82 L394.80,222.81 L395.30,222.80 L395.80,222.79 L396.30,222.78 L396.80,222.77 L397.30,222.76 L397.80,222.75 L398.30,222.74 L398.80,222.73 L399.30,222.72 L399.80,222.70 L400.30,222.69 L400.80,222.68 L401.30,222.67 L401.80,222.65 L402.30,222.64 L402.80,222.62 L403.30,222.61 L403.80,222.59 L404.30,222.58 L404.80,222.56 L405.30,222.54 L405.80,222.52 L406.30,222.50 L406.80,222.48 L407.30,222.46 L407.80,222.44 L408.30,222.42 L408.80,222.39 L409.30,222.37 L409.80,222.35 L410.30,222.32 L410.80,222.30 L411.30,222.27 L411.80,222.24 L412.30,222.22 L412.80,222.19 L413.30,222.16 L413.80,222.13 L414.30,222.10 L414.80,222.07 L415.30,222.04 L415.80,222.01 L416.30,221.98 L416.80,221.94 L417.30,221.91 L417.80,221.87 L418.30,221.84 L418.80,221.80 L419.30,221.77 L419.80,221.73 L420.30,221.69 L420.80,221.65 L421.30,221.61 L421.80,221.57 L422.30,221.53 L422.80,221.49 L423.30,221.45 L423.80,221.41 L424.30,221.36 L424.80,221.32 L425.30,221.27 L425.80,221.22 L426.30,221.17 L426.80,221.11 L427.30,221.05 L427.80,220.99 L428.30,220.93 L428.80,220.86 L429.30,220.79 L429.80,220.72 L430.30,220.65 L430.80,220.57 L431.30,220.49 L431.80,220.41 L432.30,220.32 L432.80,220.23 L433.30,220.14 L433.80,220.04 L434.30,219.95 L434.80,219.85 L435.30,219.74 L435.80,219.63 L436.30,219.52 L436.80,219.41 L437.30,219.29 L437.80,219.17 L438.30,219.05 L438.80,218.92 L439.30,218.79 L439.80,218.65 L440.30,218.51 L440.80,218.35 L441.30,218.17 L441.80,217.96 L442.30,217.74 L442.80,217.50 L443.30,217.25 L443.80,216.98 L444.30,216.71 L444.80,216.42 L445.30,216.13 L445.80,215.84 L446.30,215.54 L446.80,215.24 L447.30,214.94 L447.80,214.64 L448.30,214.34 L448.80,214.04 L449.30,213.74 L449.80,213.42 L450.30,213.11 L450.80,212.78 L451.30,212.45 L451.80,212.10 L452.30,211.74 L452.80,211.37 L453.30,210.98 L453.80,210.57 L454.30,210.14 L454.80,209.70 L455.30,209.23 L455.80,208.74 L456.30,208.23 L456.80,207.69 L457.30,207.08 L457.80,206.40 L458.30,205.65 L458.80,204.83 L459.30,203.96 L459.80,203.05 L460.30,202.09 L460.80,201.09 L461.30,200.07 L461.80,199.03 L462.30,197.98 L462.80,196.92 L463.30,195.84 L463.80,194.74 L464.30,193.60 L464.80,192.41 L465.30,191.16 L465.80,189.84 L466.30,188.44 L466.80,186.94 L467.30,185.34 L467.80,183.62 L468.30,181.78 L468.80,179.72 L469.30,177.21 L469.80,174.29 L470.30,171.03 L470.80,167.53 L471.30,163.88 L471.80,160.14 L472.30,156.42 L472.80,152.78 L473.30,149.32 L473.80,146.02 L474.30,142.78 L474.80,139.56 L475.30,136.30 L475.80,132.93 L476.30,129.42 L476.80,125.69 L477.30,121.69 L477.80,117.25 L478.30,112.03 L478.80,106.34 L479.30,100.53 L479.80,94.96 L480.30,90.00 L480.80,85.61 L481.30,81.50 L481.80,77.64 L482.30,74.00 L482.80,69.94 L483.30,66.10 L483.80,64.40 L484.30,66.02 L484.80,69.78 L485.30,74.00 L485.80,78.30 L486.30,83.30 L486.80,88.84 L487.30,95.04 L487.80,102.12 L488.30,109.64 L488.80,117.12 L489.30,124.26 L489.80,131.39 L490.30,138.49 L490.80,145.50 L491.30,152.33 L491.80,159.11 L492.30,166.28 L492.80,173.26 L493.30,179.37 L493.80,183.90 L494.30,187.20 L494.80,190.08 L495.30,192.62 L495.80,194.85 L496.30,196.85 L496.80,198.67 L497.30,200.37 L497.80,201.99 L498.30,203.55 L498.80,205.03 L499.30,206.43 L499.80,207.74 L500.30,208.96 L500.80,210.07 L501.30,211.08 L501.80,211.97 L502.30,212.75 L502.80,213.46 L503.30,214.14 L503.80,214.80 L504.30,215.42 L504.80,216.01 L505.30,216.57 L505.80,217.09 L506.30,217.58 L506.80,218.04 L507.30,218.45 L507.80,218.84 L508.30,219.18 L508.80,219.49 L509.30,219.75 L509.80,219.99 L510.30,220.22 L510.80,220.44 L511.30,220.65 L511.80,220.85 L512.30,221.05 L512.80,221.23 L513.30,221.41 L513.80,221.58 L514.30,221.74 L514.80,221.88 L515.30,222.02 L515.80,222.15 L516.30,222.26 L516.80,222.37 L517.30,222.46 L517.80,222.55 L518.30,222.62 L518.80,222.68 L519.30,222.73 L519.80,222.78 L520.30,222.82 L520.80,222.87 L521.30,222.91 L521.80,222.96 L522.30,223.00 L522.80,223.04 L523.30,223.08 L523.80,223.11 L524.30,223.15 L524.80,223.19 L525.30,223.22 L525.80,223.25 L526.30,223.29 L526.80,223.32 L527.30,223.34 L527.80,223.37 L528.30,223.40 L528.80,223.42 L529.30,223.44 L529.80,223.47 L530.30,223.49 L530.80,223.50 L531.30,223.52 L531.80,223.54 L532.30,223.55 L532.80,223.56 L533.30,223.57 L533.80,223.58 L534.30,223.59 L534.80,223.59 L535.30,223.60 L535.80,223.60 L536.30,223.60 L536.80,223.60 L537.30,223.61 L537.80,223.61 L538.30,223.61 L538.80,223.61 L539.30,223.61 L539.80,223.61 L540.30,223.62 L540.80,223.62 L541.30,223.62 L541.80,223.62 L542.30,223.62 L542.80,223.62 L543.30,223.63 L543.80,223.63 L544.30,223.63 L544.80,223.63 L545.30,223.63 L545.80,223.63 L546.30,223.63 L546.80,223.64 L547.30,223.64 L547.80,223.64 L548.30,223.64 L548.80,223.64 L549.30,223.64 L549.80,223.64 L550.30,223.65 L550.80,223.65 L551.30,223.65 L551.80,223.65 L552.30,223.65 L552.80,223.65 L553.30,223.65 L553.80,223.66 L554.30,223.66 L554.80,223.66 L555.30,223.66 L555.80,223.66 L556.30,223.66 L556.80,223.66 L557.30,223.67 L557.80,223.67 L558.30,223.67 L558.80,223.67 L559.30,223.67 L559.80,223.67 L560.30,223.67 L560.80,223.67 L561.30,223.68 L561.80,223.68 L562.30,223.68 L562.80,223.68 L563.30,223.68 L563.80,223.68 L564.30,223.68 L564.80,223.68 L565.30,223.69 L565.80,223.69 L566.30,223.69 L566.80,223.69 L567.30,223.69 L567.80,223.69 L568.30,223.69 L568.80,223.69 L569.30,223.70 L569.80,223.70 L570.30,223.70 L570.80,223.70 L571.30,223.70 L571.80,223.70 L572.30,223.70 L572.80,223.70 L573.30,223.70 L573.80,223.70 L574.30,223.71 L574.80,223.71 L575.30,223.71 L575.80,223.71 L576.30,223.71 L576.80,223.71 L577.30,223.71 L577.80,223.71 L578.30,223.71 L578.80,223.72 L579.30,223.72 L579.80,223.72 L580.30,223.72 L580.80,223.72 L581.30,223.72 L581.80,223.72 L582.30,223.72 L582.80,223.72 L583.30,223.72 L583.80,223.72 L584.30,223.73 L584.80,223.73 L585.30,223.73 L585.80,223.73 L586.30,223.73 L586.80,223.73 L587.30,223.73 L587.80,223.73 L588.30,223.73 L588.80,223.73 L589.30,223.73 L589.80,223.74 L590.30,223.74 L590.80,223.74 L591.30,223.74 L591.80,223.74 L592.30,223.74 L592.80,223.74 L593.30,223.74 L593.80,223.74 L594.30,223.74 L594.80,223.74 L595.30,223.74 L595.80,223.74 L596.30,223.75 L596.80,223.75 L597.30,223.75 L597.80,223.75 L598.30,223.75 L598.80,223.75 L599.30,223.75 L599.80,223.75 L600.30,223.75 L600.80,223.75 L601.30,223.75 L601.80,223.75 L602.30,223.75 L602.80,223.75 L603.30,223.76 L603.80,223.76 L604.30,223.76 L604.80,223.76 L605.30,223.76 L605.80,223.76 L606.30,223.76 L606.80,223.76 L607.30,223.76 L607.80,223.76 L608.30,223.76 L608.80,223.76 L609.30,223.76 L609.80,223.76 L610.30,223.76 L610.80,223.76 L611.30,223.76 L611.80,223.77 L612.30,223.77 L612.80,223.77 L613.30,223.77 L613.80,223.77 L614.30,223.77 L614.80,223.77 L615.30,223.77 L615.80,223.77 L616.30,223.77 L616.80,223.77 L617.30,223.77 L617.80,223.77 L618.30,223.77 L618.80,223.77 L619.30,223.77 L619.80,223.77 L620.30,223.77 L620.80,223.77 L621.30,223.78 L621.80,223.78 L622.30,223.78 L622.80,223.78 L623.30,223.78 L623.80,223.78 L624.30,223.78 L624.80,223.78 L625.30,223.78 L625.80,223.78 L626.30,223.78 L626.80,223.78 L627.30,223.78 L627.80,223.78 L628.30,223.78 L628.80,223.78 L629.30,223.78 L629.80,223.78 L630.30,223.78 L630.80,223.78 L631.30,223.78 L631.80,223.78 L632.30,223.78 L632.80,223.78 L633.30,223.78 L633.80,223.78 L634.30,223.79 L634.80,223.79 L635.30,223.79 L635.80,223.79 L636.30,223.79 L636.80,223.79 L637.30,223.79 L637.80,223.79 L638.30,223.79 L638.80,223.79 L639.30,223.79 L639.80,223.79 L640.30,223.79 L640.80,223.79 L641.30,223.79 L641.80,223.79 L642.30,223.79 L642.80,223.79 L643.30,223.79 L643.80,223.79 L644.30,223.79 L644.80,223.79 L645.30,223.79 L645.80,223.79 L646.30,223.79 L646.80,223.79 L647.30,223.79 L647.80,223.79 L648.30,223.79 L648.80,223.79 L649.30,223.79 L649.80,223.79 L650.30,223.79 L650.80,223.79 L651.30,223.79 L651.80,223.79 L652.30,223.79 L652.80,223.79 L653.30,223.79 L653.80,223.79 L654.30,223.79 L654.80,223.80 L655.30,223.80 L655.80,223.80 L656.30,223.80 L656.80,223.80 L657.30,223.80 L657.80,223.80 L658.30,223.80 L658.80,223.80 L659.30,223.80 L659.80,223.80 L660.30,223.80 L660.80,223.80 L661.30,223.80 L661.80,223.80 L662.30,223.80 L662.80,223.80 L663.30,223.80 L663.80,223.80 L664.30,223.80 L664.80,223.80 L665.30,223.80 L665.80,223.80 L666.30,223.80 L666.80,223.80 L667.30,223.80 L667.80,223.80 L668.30,223.80 L668.80,223.80 L669.30,223.80 L669.80,223.80 L670.30,223.80 L670.80,223.80 L671.30,223.80 L671.80,223.80 L672.30,223.80 L672.80,223.80 L673.30,223.80 L673.80,223.80 L674.30,223.80 L674.80,223.80 L675.30,223.80 L675.80,223.80 L676.30,223.80 L676.80,223.80 L677.30,223.80 L677.80,223.80 L678.30,223.80 L678.80,223.80 L679.30,223.80 L679.80,223.80 L680.30,223.80 L680.80,223.80 L681.30,223.80 L681.80,223.80 L682.30,223.80 L682.80,223.80 L683.30,223.80 L683.80,223.80 L684.30,223.80 L684.80,223.80 L685.30,223.80 L685.80,223.80 L686.30,223.80 L686.80,223.80 L687.30,223.80" stroke="#2f3f9e" stroke-width="1.65" fill="none" stroke-linejoin="round"/>
<text x="10.00" y="244.29" font-family="'Liberation Sans',Arial,sans-serif" font-size="16.00" textLength="28.32" lengthAdjust="spacingAndGlyphs" stroke="#141414" stroke-width="0.7" stroke-linejoin="round" fill="#141414">200</text>
<text x="73.71" y="244.49" font-family="'Liberation Sans',Arial,sans-serif" font-size="16.00" textLength="28.00" lengthAdjust="spacingAndGlyphs" stroke="#141414" stroke-width="0.7" stroke-linejoin="round" fill="#141414">250</text>
<text x="137.11" y="244.29" font-family="'Liberation Sans',Arial,sans-serif" font-size="16.00" textLength="27.99" lengthAdjust="spacingAndGlyphs" stroke="#141414" stroke-width="0.7" stroke-linejoin="round" fill="#141414">300</text>
<text x="200.51" y="244.29" font-family="'Liberation Sans',Arial,sans-serif" font-size="16.00" textLength="28.20" lengthAdjust="spacingAndGlyphs" stroke="#141414" stroke-width="0.7" stroke-linejoin="round" fill="#141414">350</text>
<text x="264.27" y="244.29" font-family="'Liberation Sans',Arial,sans-serif" font-size="16.00" textLength="27.94" lengthAdjust="spacingAndGlyphs" stroke="#141414" stroke-width="0.7" stroke-linejoin="round" fill="#141414">400</text>
<text x="375.25" y="244.65" font-family="'Liberation Sans',Arial,sans-serif" font-size="16.00" textLength="23.81" lengthAdjust="spacingAndGlyphs" stroke="#141414" stroke-width="0.7" stroke-linejoin="round" fill="#141414">1.4</text>
<text x="451.05" y="244.49" font-family="'Liberation Sans',Arial,sans-serif" font-size="16.00" textLength="23.75" lengthAdjust="spacingAndGlyphs" stroke="#141414" stroke-width="0.7" stroke-linejoin="round" fill="#141414">1.6</text>
<text x="526.65" y="244.49" font-family="'Liberation Sans',Arial,sans-serif" font-size="16.00" textLength="23.74" lengthAdjust="spacingAndGlyphs" stroke="#141414" stroke-width="0.7" stroke-linejoin="round" fill="#141414">1.8</text>
<text x="601.50" y="244.49" font-family="'Liberation Sans',Arial,sans-serif" font-size="16.00" textLength="23.62" lengthAdjust="spacingAndGlyphs" stroke="#141414" stroke-width="0.7" stroke-linejoin="round" fill="#141414">2.0</text>
<text x="676.68" y="244.65" font-family="'Liberation Sans',Arial,sans-serif" font-size="16.00" textLength="24.15" lengthAdjust="spacingAndGlyphs" stroke="#141414" stroke-width="0.7" stroke-linejoin="round" fill="#141414">2.2</text>
<text x="33.75" y="28.61" font-family="'Liberation Sans',Arial,sans-serif" font-size="25.00" textLength="30.59" lengthAdjust="spacingAndGlyphs" font-weight="bold" fill="#111">(a)</text>
<text x="397.33" y="26.80" font-family="'Liberation Sans',Arial,sans-serif" font-size="24.57" textLength="32.54" lengthAdjust="spacingAndGlyphs" font-weight="bold" fill="#111">(b)</text>
<text x="112.07" y="263.73" font-family="'Liberation Serif','Times New Roman',serif" font-size="20.69" textLength="140.08" lengthAdjust="spacingAndGlyphs" stroke="#141414" stroke-width="0.75" stroke-linejoin="round" fill="#141414">Raman shift (cm</text>
<text x="253.70" y="253.03" font-family="'Liberation Serif','Times New Roman',serif" font-size="8.56" textLength="8.41" lengthAdjust="spacingAndGlyphs" stroke="#141414" stroke-width="0.75" stroke-linejoin="round" fill="#141414">-1</text>
<text x="263.99" y="264.00" font-family="'Liberation Serif','Times New Roman',serif" font-size="20.79" textLength="6.09" lengthAdjust="spacingAndGlyphs" stroke="#141414" stroke-width="0.75" stroke-linejoin="round" fill="#141414">)</text>
<text x="488.54" y="266.03" font-family="'Liberation Serif','Times New Roman',serif" font-size="20.69" textLength="108.84" lengthAdjust="spacingAndGlyphs" stroke="#141414" stroke-width="0.75" stroke-linejoin="round" fill="#141414">Energy (eV)</text>
<text transform="translate(13.35,187.91) rotate(-90)" x="0" y="0" font-family="'Liberation Serif','Times New Roman',serif" font-size="20.50" textLength="163.44" lengthAdjust="spacingAndGlyphs" stroke="#141414" stroke-width="0.7" fill="#141414">Normalized intensity</text>
<text transform="translate(374.85,215.93) rotate(-90)" x="0" y="0" font-family="'Liberation Serif','Times New Roman',serif" font-size="20.80" textLength="198.86" lengthAdjust="spacingAndGlyphs" stroke="#141414" stroke-width="0.7" fill="#141414">Normalized PL intensity</text>
<text x="158.59" y="71.14" font-family="'Liberation Sans',Arial,sans-serif" font-size="21.47" textLength="44.04" lengthAdjust="spacingAndGlyphs" stroke="#6150ad" stroke-width="0.5" stroke-linejoin="round" fill="#6150ad">MoS</text>
<text x="202.26" y="80.10" font-family="'Liberation Sans',Arial,sans-serif" font-size="13.61" textLength="8.66" lengthAdjust="spacingAndGlyphs" font-weight="bold" stroke="#6150ad" stroke-width="0.2" stroke-linejoin="round" fill="#6150ad">2</text>
<text x="244.87" y="53.35" font-family="'Liberation Sans',Arial,sans-serif" font-size="21.51" textLength="13.66" lengthAdjust="spacingAndGlyphs" stroke="#6150ad" stroke-width="0.5" stroke-linejoin="round" fill="#6150ad">E</text>
<text x="260.03" y="41.90" font-family="'Liberation Sans',Arial,sans-serif" font-size="12.50" textLength="5.91" lengthAdjust="spacingAndGlyphs" font-weight="bold" stroke="#6150ad" stroke-width="0.2" stroke-linejoin="round" fill="#6150ad">1</text>
<text x="259.07" y="62.06" font-family="'Liberation Sans',Arial,sans-serif" font-size="10.55" textLength="14.52" lengthAdjust="spacingAndGlyphs" font-weight="bold" stroke="#6150ad" stroke-width="0.2" stroke-linejoin="round" fill="#6150ad">2g</text>
<text x="271.81" y="29.55" font-family="'Liberation Sans',Arial,sans-serif" font-size="20.35" textLength="13.08" lengthAdjust="spacingAndGlyphs" stroke="#6150ad" stroke-width="0.5" stroke-linejoin="round" fill="#6150ad">A</text>
<text x="286.33" y="39.13" font-family="'Liberation Sans',Arial,sans-serif" font-size="11.67" textLength="14.29" lengthAdjust="spacingAndGlyphs" font-weight="bold" stroke="#6150ad" stroke-width="0.2" stroke-linejoin="round" fill="#6150ad">1g</text>
<text x="80.91" y="106.25" font-family="'Liberation Sans',Arial,sans-serif" font-size="21.22" textLength="14.69" lengthAdjust="spacingAndGlyphs" stroke="#2a48aa" stroke-width="0.5" stroke-linejoin="round" fill="#2a48aa">A</text>
<text x="95.77" y="115.01" font-family="'Liberation Sans',Arial,sans-serif" font-size="12.22" textLength="13.50" lengthAdjust="spacingAndGlyphs" font-weight="bold" stroke="#2a48aa" stroke-width="0.2" stroke-linejoin="round" fill="#2a48aa">1g</text>
<text x="97.68" y="133.42" font-family="'Liberation Sans',Arial,sans-serif" font-size="14.17" textLength="50.12" lengthAdjust="spacingAndGlyphs" stroke="#2a48aa" stroke-width="0.5" stroke-linejoin="round" fill="#2a48aa">2LA(M)</text>
<text x="159.95" y="149.94" font-family="'Liberation Sans',Arial,sans-serif" font-size="21.61" textLength="46.86" lengthAdjust="spacingAndGlyphs" stroke="#2a48aa" stroke-width="0.5" stroke-linejoin="round" fill="#2a48aa">WSe</text>
<text x="205.90" y="157.90" font-family="'Liberation Sans',Arial,sans-serif" font-size="13.03" textLength="7.97" lengthAdjust="spacingAndGlyphs" font-weight="bold" stroke="#2a48aa" stroke-width="0.2" stroke-linejoin="round" fill="#2a48aa">2</text>
<text x="69.41" y="175.30" font-family="'Liberation Sans',Arial,sans-serif" font-size="21.00" textLength="14.18" lengthAdjust="spacingAndGlyphs" stroke="#e41e2a" stroke-width="0.5" stroke-linejoin="round" fill="#e41e2a">A</text>
<text x="83.73" y="184.70" font-family="'Liberation Sans',Arial,sans-serif" font-size="11.78" textLength="14.29" lengthAdjust="spacingAndGlyphs" font-weight="bold" stroke="#e41e2a" stroke-width="0.2" stroke-linejoin="round" fill="#e41e2a">1g</text>
<text x="158.59" y="210.34" font-family="'Liberation Sans',Arial,sans-serif" font-size="21.89" textLength="55.91" lengthAdjust="spacingAndGlyphs" stroke="#e41e2a" stroke-width="0.5" stroke-linejoin="round" fill="#e41e2a">MoSe</text>
<text x="214.78" y="219.10" font-family="'Liberation Sans',Arial,sans-serif" font-size="13.61" textLength="8.32" lengthAdjust="spacingAndGlyphs" font-weight="bold" stroke="#e41e2a" stroke-width="0.2" stroke-linejoin="round" fill="#e41e2a">2</text>
<text x="409.14" y="60.20" font-family="'Liberation Sans',Arial,sans-serif" font-size="22.81" textLength="58.38" lengthAdjust="spacingAndGlyphs" stroke="#e41e2a" stroke-width="0.75" stroke-linejoin="round" fill="#e41e2a">MoSe</text>
<text x="467.02" y="68.65" font-family="'Liberation Sans',Arial,sans-serif" font-size="13.03" textLength="8.55" lengthAdjust="spacingAndGlyphs" font-weight="bold" stroke="#e41e2a" stroke-width="0.3" stroke-linejoin="round" fill="#e41e2a">2</text>
<text x="474.58" y="60.20" font-family="'Liberation Sans',Arial,sans-serif" font-size="23.09" textLength="47.73" lengthAdjust="spacingAndGlyphs" stroke="#2c45a4" stroke-width="0.75" stroke-linejoin="round" fill="#2c45a4">WSe</text>
<text x="521.52" y="69.45" font-family="'Liberation Sans',Arial,sans-serif" font-size="14.46" textLength="8.55" lengthAdjust="spacingAndGlyphs" font-weight="bold" stroke="#2c45a4" stroke-width="0.3" stroke-linejoin="round" fill="#2c45a4">2</text>
<text x="534.07" y="62.20" font-family="'Liberation Sans',Arial,sans-serif" font-size="22.67" textLength="45.27" lengthAdjust="spacingAndGlyphs" stroke="#6150ad" stroke-width="0.75" stroke-linejoin="round" fill="#6150ad">MoS</text>
<text x="579.33" y="71.65" font-family="'Liberation Sans',Arial,sans-serif" font-size="14.61" textLength="8.32" lengthAdjust="spacingAndGlyphs" font-weight="bold" stroke="#6150ad" stroke-width="0.3" stroke-linejoin="round" fill="#6150ad">2</text>
<g stroke="#2a48aa" stroke-width="1.6" fill="#2a48aa">
<line x1="112.2" y1="138.0" x2="106.5" y2="145.6"/>
<path d="M102.8,150.2 L105.6,143.5 L108.4,145.8 Z" stroke="#2a48aa" stroke-width="0.5"/>
</g>
</svg>
</body></html>
